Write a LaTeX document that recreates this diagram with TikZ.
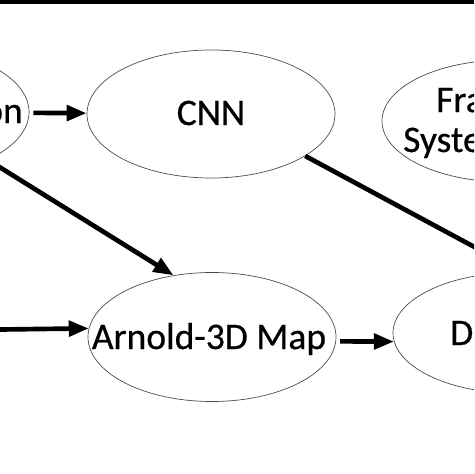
\documentclass[tikz,border=0pt]{standalone}
\usepackage{fontspec}
\setmainfont{Carlito}[FakeBold=0.6]
\usetikzlibrary{arrows.meta,shapes}

\begin{document}
\begin{tikzpicture}[x=0.03cm,y=-0.03cm,
    blob/.style={draw=black!70, line width=0.6pt, ellipse, minimum width=7.44cm, minimum height=3.84cm, inner sep=0pt},
    tag/.style={font=\fontsize{32}{38}\selectfont, inner sep=0pt},
    link/.style={line width=0.14cm, -{Triangle[length=0.6cm,width=0.46cm]}}]
                        \useasboundingbox (0,0) rectangle (474,474);
                        \clip (0,0) rectangle (474,474);
                        \fill[black] (0,0) rectangle (474,4);
                        \node[blob] (seg) at (-95,112) {};
                        \node[blob] (cnn) at (211,114) {};
                        \node[blob, minimum height=3.66cm] (frm) at (506,121) {};
                        \node[blob, minimum height=3.87cm] (arn) at (212,337) {};
                        \node[blob, minimum height=3.63cm] (dec) at (517,333) {};
                        \coordinate (src) at (-40,330);
                        \node[tag, anchor=base east] (segtxt) at (23,123) {on};
                        \node[tag, anchor=base] (cnntxt) at (211,125) {CNN};
                        \node[tag, anchor=base west] (frmtxta) at (436,112) {Fra};
                        \node[tag, anchor=base west] (frmtxtb) at (403,152) {Syste};
                        \node[tag, anchor=base] (arntxt) at (209,349) {Arnold-3D Map};
                        \node[tag, anchor=base west] (dectxt) at (450,345) {D};
                        \draw [link, shorten <=0.12cm] (seg) -- (cnn);
                        \draw [link] (seg.-30) -- (arn.122);
                        \draw [link] (cnn.-24) -- (dec.86);
                        \draw [link] (src) -- (arn.176);
                        \draw [link, shorten <=0.12cm] (arn.-2) -- (dec.184);
                        \end{tikzpicture}
\end{document}
